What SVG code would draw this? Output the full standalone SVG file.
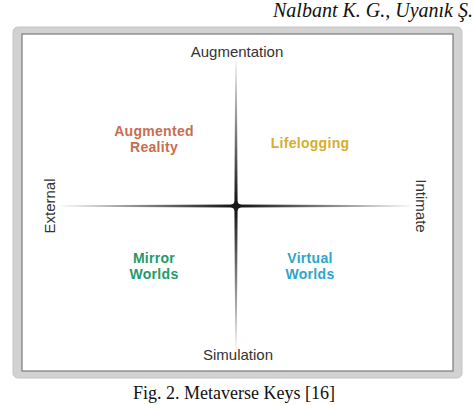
<svg xmlns="http://www.w3.org/2000/svg" width="474" height="405" viewBox="0 0 474 405">
<style>
.ax{font-family:"Liberation Sans",Arial,sans-serif;font-size:15px;fill:#333;text-anchor:middle}
.q{font-family:"Liberation Sans",Arial,sans-serif;font-size:14px;font-weight:bold;text-anchor:middle;letter-spacing:0.3px}
.serif{font-family:"Liberation Serif","Times New Roman",serif;fill:#111}
</style>
<defs>
<linearGradient id="gv" x1="0" y1="60" x2="0" y2="350" gradientUnits="userSpaceOnUse">
<stop offset="0" stop-color="#000" stop-opacity="0.04"/>
<stop offset="0.5" stop-color="#111"/>
<stop offset="1" stop-color="#000" stop-opacity="0.04"/>
</linearGradient>
<linearGradient id="gh" x1="62" y1="0" x2="410" y2="0" gradientUnits="userSpaceOnUse">
<stop offset="0" stop-color="#000" stop-opacity="0.04"/>
<stop offset="0.5" stop-color="#111"/>
<stop offset="1" stop-color="#000" stop-opacity="0.04"/>
</linearGradient>
</defs>
<rect width="474" height="405" fill="#fff"/>
<text class="serif" x="473" y="17" font-size="20" font-style="italic" text-anchor="end">Nalbant K. G., Uyanık Ş.</text>
<g id="frame">
<rect x="13" y="27" width="449" height="351" rx="5" fill="#d2d2d2" stroke="#c4c4c4"/>
<rect x="22" y="34" width="431" height="337" fill="#fff" stroke="#7a7a7a" stroke-width="1.2"/>
</g>
<g id="connectors">
<polygon points="235.2,60 236.8,60 237.6,206 236.8,350 235.2,350 234.4,206" fill="url(#gv)"/>
<polygon points="62,205.2 62,206.8 236,207.6 410,206.8 410,205.2 236,204.4" fill="url(#gh)"/>
<path d="M236,199 L238.5,203.5 L243,206 L238.5,208.5 L236,213 L233.5,208.5 L229,206 L233.5,203.5 Z" fill="#1a1a1a"/>
</g>
<g id="augmentation"><text class="ax" x="237" y="57">Augmentation</text></g>
<g id="simulation"><text class="ax" x="238" y="360">Simulation</text></g>
<g id="external"><text class="ax" transform="translate(55,206) rotate(-90)">External</text></g>
<g id="intimate"><text class="ax" transform="translate(416,206) rotate(90)">Intimate</text></g>
<g id="augmented-reality"><text class="q" fill="#c76e50" x="154" y="136">Augmented</text><text class="q" fill="#c76e50" x="154" y="152">Reality</text></g>
<g id="lifelogging"><text class="q" fill="#d6ae2c" x="310" y="148">Lifelogging</text></g>
<g id="mirror-worlds"><text class="q" fill="#239a6c" x="154" y="263">Mirror</text><text class="q" fill="#239a6c" x="154" y="279">Worlds</text></g>
<g id="virtual-worlds"><text class="q" fill="#2ca6c8" x="310" y="263">Virtual</text><text class="q" fill="#2ca6c8" x="310" y="279">Worlds</text></g>
<text class="serif" x="234" y="399" font-size="18" text-anchor="middle">Fig. 2. Metaverse Keys [16]</text>
</svg>
